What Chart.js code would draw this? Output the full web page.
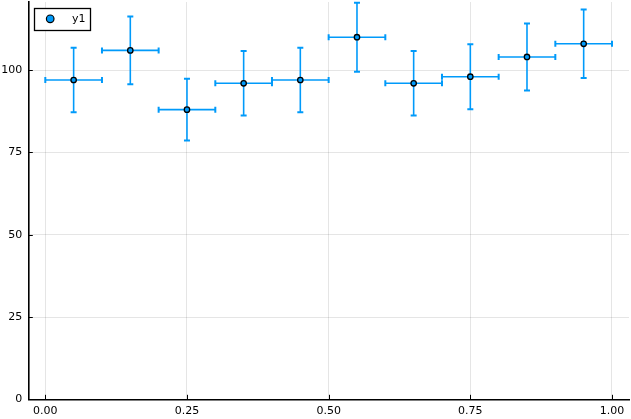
<!DOCTYPE html>
<html>
<head>
<meta charset="utf-8">
<script src="https://cdn.jsdelivr.net/npm/chart.js@4/dist/chart.umd.min.js"></script>
<style>
  html, body { margin: 0; padding: 0; background: #fff; }
  #wrap { width: 631px; height: 419px; position: relative; }
</style>
</head>
<body>
<div id="wrap"><canvas id="c" width="631" height="419"></canvas></div>
<script>
// ---- data ----
const seriesLabel = "y1";
const xValues = [0.05, 0.15, 0.25, 0.35, 0.45, 0.55, 0.65, 0.75, 0.85, 0.95];
const yValues = [97, 106, 88, 96, 97, 110, 96, 98, 104, 108];
const xErrors = [0.05, 0.05, 0.05, 0.05, 0.05, 0.05, 0.05, 0.05, 0.05, 0.05];
const yErrors = [9.8, 10.3, 9.4, 9.8, 9.8, 10.5, 9.8, 9.9, 10.2, 10.4];
const xTickValues = [0, 0.25, 0.5, 0.75, 1.0];
const yTickValues = [0, 25, 50, 75, 100];

const BLUE = "#009AFA";
const FONT = "DejaVu Sans";

const points = xValues.map((x, i) => ({ x: x, y: yValues[i] }));

const errorBarPlugin = {
  id: "errorBars",
  beforeDatasetsDraw(chart) {
    const ctx = chart.ctx;
    const xs = chart.scales.x, ys = chart.scales.y;
    const cap = 3;
    ctx.save();
    ctx.strokeStyle = BLUE;
    ctx.lineCap = "butt";
    xValues.forEach((xv, i) => {
      const px = xs.getPixelForValue(xv);
      const py = ys.getPixelForValue(yValues[i]);
      const yTop = ys.getPixelForValue(yValues[i] + yErrors[i]);
      const yBot = ys.getPixelForValue(yValues[i] - yErrors[i]);
      const xL = xs.getPixelForValue(xv - xErrors[i]);
      const xR = xs.getPixelForValue(xv + xErrors[i]);
      // vertical
      ctx.lineWidth = 1.6;
      ctx.beginPath();
      ctx.moveTo(px, yTop); ctx.lineTo(px, yBot);
      ctx.stroke();
      ctx.lineWidth = 2;
      ctx.beginPath();
      ctx.moveTo(px - cap, yTop); ctx.lineTo(px + cap, yTop);
      ctx.moveTo(px - cap, yBot); ctx.lineTo(px + cap, yBot);
      ctx.stroke();
      // horizontal
      ctx.lineWidth = 1.6;
      ctx.beginPath();
      ctx.moveTo(xL, py); ctx.lineTo(xR, py);
      ctx.stroke();
      ctx.lineWidth = 2;
      ctx.beginPath();
      ctx.moveTo(xL, py - cap); ctx.lineTo(xL, py + cap);
      ctx.moveTo(xR, py - cap); ctx.lineTo(xR, py + cap);
      ctx.stroke();
    });
    ctx.restore();
  }
};

const axisDecorPlugin = {
  id: "axisDecor",
  afterDraw(chart) {
    const ctx = chart.ctx;
    const a = chart.chartArea;
    const xs = chart.scales.x, ys = chart.scales.y;
    ctx.save();
    // inner tick marks
    ctx.strokeStyle = "#000";
    ctx.lineWidth = 1;
    ctx.beginPath();
    xTickValues.forEach(v => {
      const p = Math.round(xs.getPixelForValue(v)) + 0.5;
      ctx.moveTo(p, a.bottom); ctx.lineTo(p, a.bottom - 4.5);
    });
    yTickValues.forEach(v => {
      const p = Math.round(ys.getPixelForValue(v)) + 0.5;
      ctx.moveTo(a.left, p); ctx.lineTo(a.left + 4.5, p);
    });
    ctx.stroke();
    // legend
    const bx = 34.5, by = 8.5, bw = 56, bh = 22;
    ctx.fillStyle = "#fff";
    ctx.fillRect(bx, by, bw, bh);
    ctx.strokeStyle = "#000";
    ctx.lineWidth = 1.3;
    ctx.strokeRect(bx, by, bw, bh);
    ctx.beginPath();
    ctx.arc(50.2, 18.8, 3.8, 0, Math.PI * 2);
    ctx.fillStyle = BLUE;
    ctx.fill();
    ctx.lineWidth = 1.2;
    ctx.strokeStyle = "#000";
    ctx.stroke();
    ctx.fillStyle = "#000";
    ctx.font = "11px '" + FONT + "'";
    ctx.textBaseline = "middle";
    ctx.textAlign = "left";
    ctx.fillText(chart.data.datasets[0].label, 72, 19);
    ctx.restore();
  }
};

new Chart(document.getElementById("c"), {
  type: "scatter",
  data: {
    datasets: [{
      label: seriesLabel,
      data: points,
      backgroundColor: BLUE,
      borderColor: "#000",
      borderWidth: 1.3,
      pointRadius: 2.7,
      pointHoverRadius: 2.7
    }]
  },
  options: {
    responsive: false,
    animation: false,
    devicePixelRatio: 1,
    layout: { autoPadding: false, padding: { top: 2, right: 2, left: 0, bottom: 0 } },
    plugins: { legend: { display: false }, tooltip: { enabled: false } },
    scales: {
      x: {
        type: "linear",
        min: -0.03,
        max: 1.03,
        afterBuildTicks: s => { s.ticks = xTickValues.map(v => ({ value: v })); },
        afterFit: s => { s.height = 19.7; s.paddingLeft = 0; s.paddingRight = 0; },
        grid: { color: "rgba(0,0,0,0.1)", lineWidth: 1, drawTicks: false },
        border: { color: "#000", width: 1.6 },
        ticks: {
          padding: 5,
          color: "#000",
          font: { family: FONT, size: 11 },
          maxRotation: 0,
          callback: v => Number(v).toFixed(2)
        }
      },
      y: {
        type: "linear",
        min: 0,
        max: 120.7,
        afterBuildTicks: s => { s.ticks = yTickValues.map(v => ({ value: v })); },
        afterFit: s => { s.width = 28.3; s.paddingTop = 0; s.paddingBottom = 0; },
        grid: { color: "rgba(0,0,0,0.1)", lineWidth: 1, drawTicks: false },
        border: { color: "#000", width: 1.6 },
        ticks: {
          padding: 6,
          color: "#000",
          font: { family: FONT, size: 11 },
          callback: v => String(v)
        }
      }
    }
  },
  plugins: [errorBarPlugin, axisDecorPlugin]
});
</script>
</body>
</html>
